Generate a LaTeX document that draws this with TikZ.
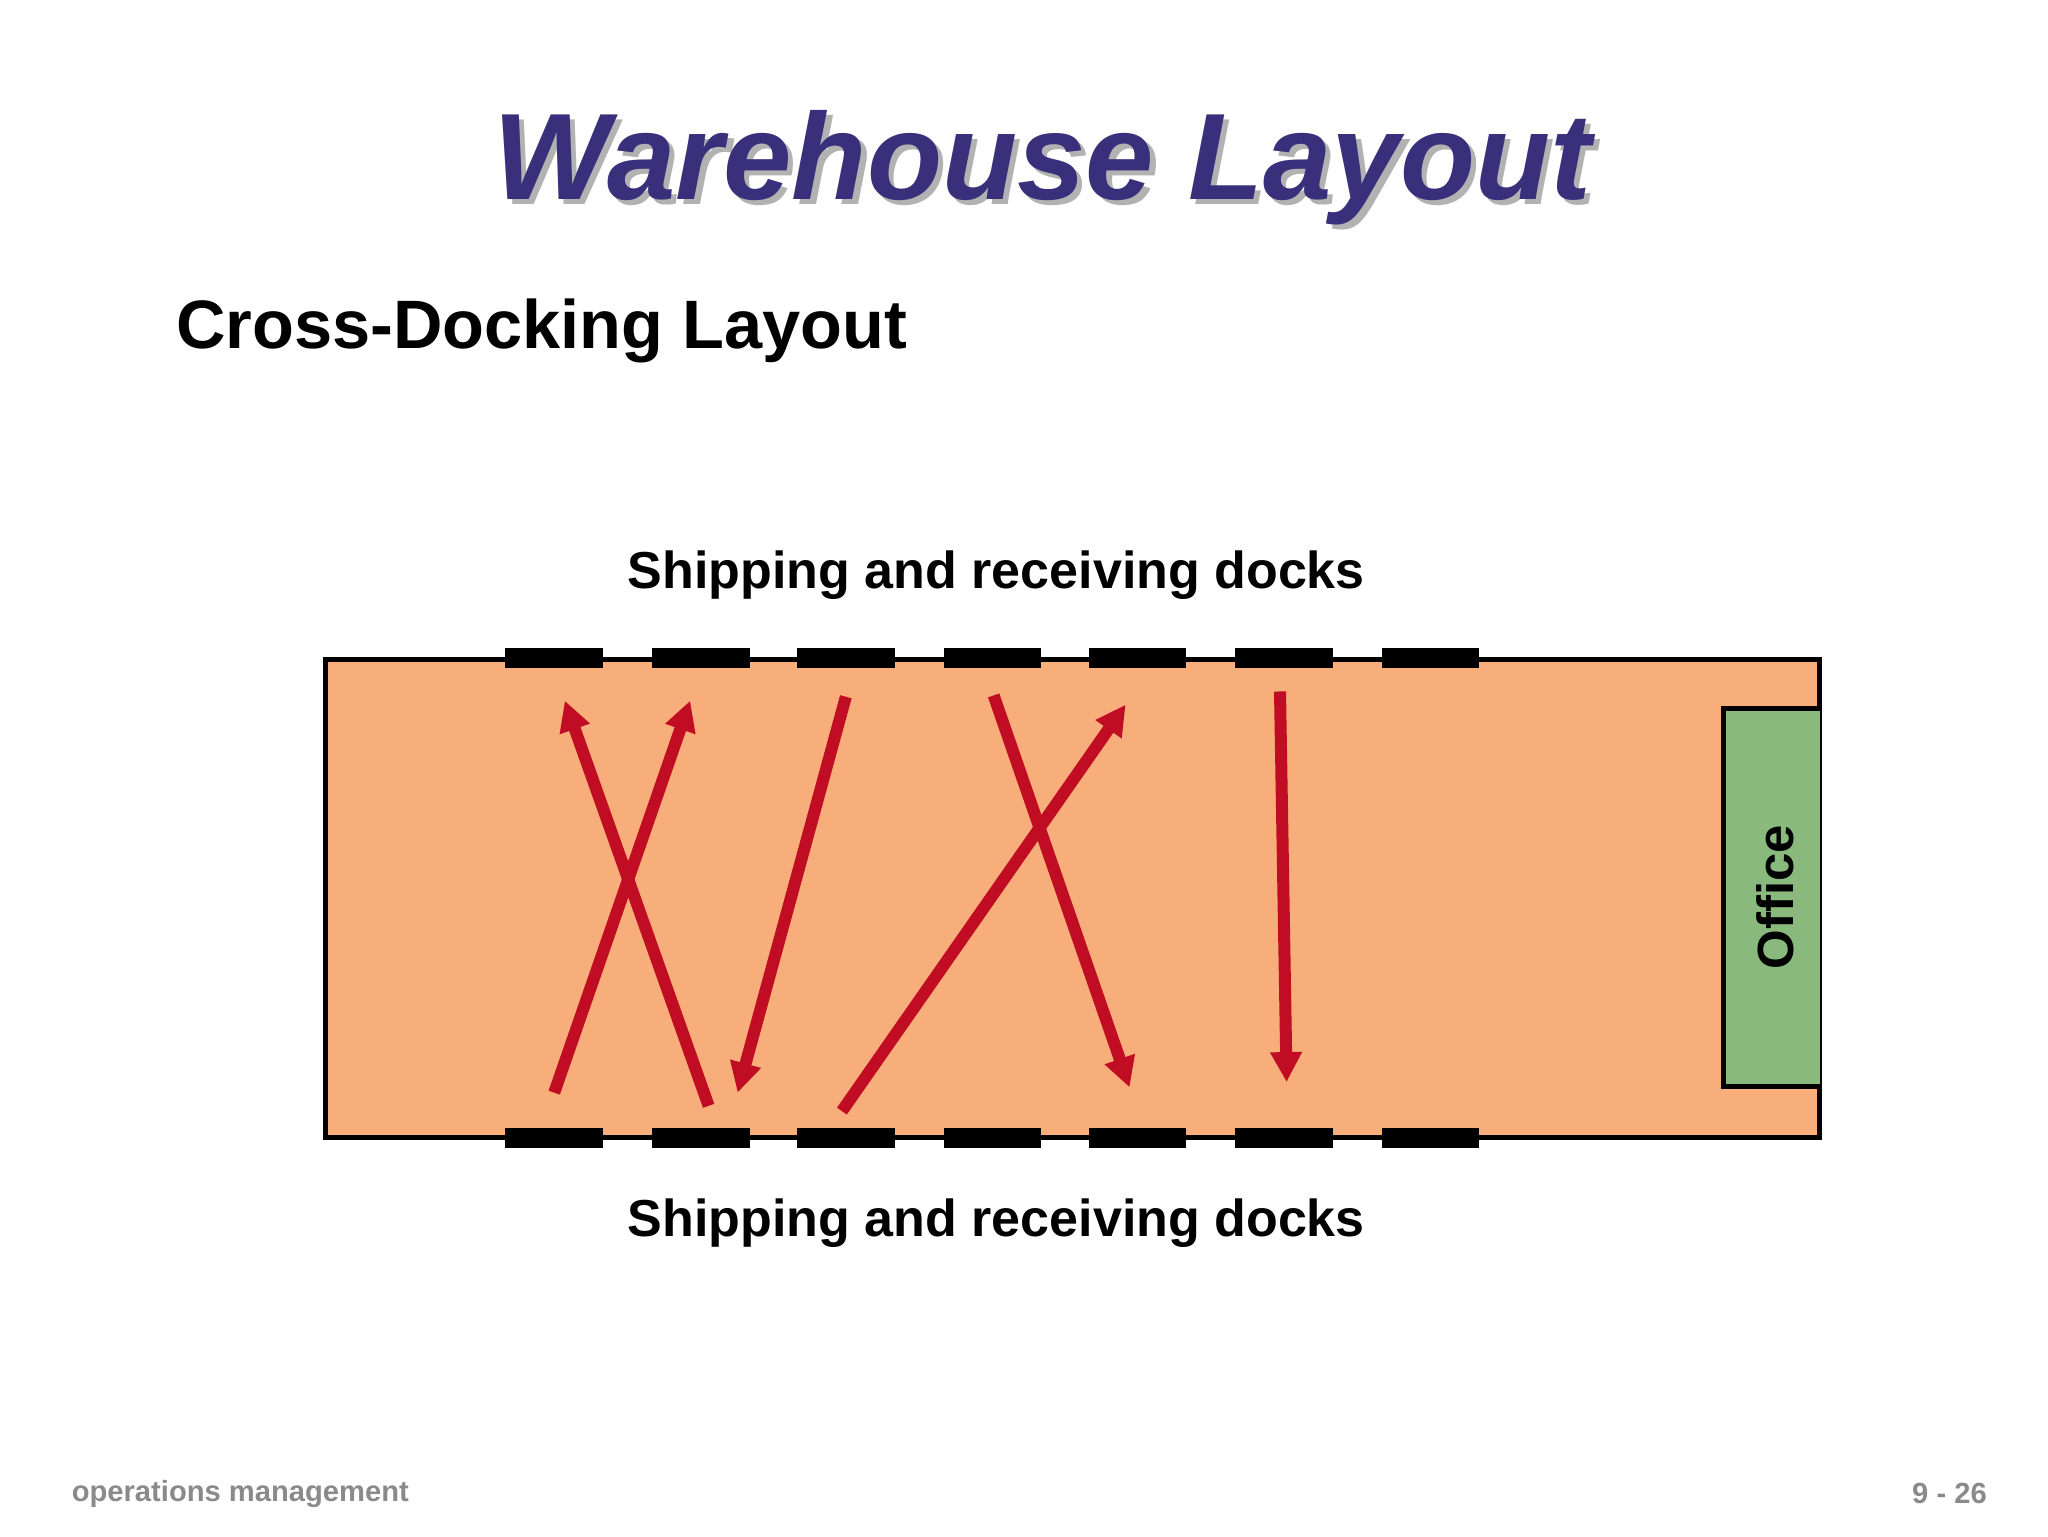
\documentclass[tikz,border=0pt]{standalone}
\usepackage{fontspec}
\setmainfont{Liberation Sans}
\usetikzlibrary{arrows.meta}
\definecolor{titlec}{HTML}{3A2F7A}
\definecolor{floorc}{HTML}{F8AE7A}
\definecolor{officec}{HTML}{8AB97D}
\definecolor{arrc}{HTML}{C00D23}
\definecolor{footc}{HTML}{8A8A8A}
\begin{document}
\begin{tikzpicture}[x=0.0132cm,y=-0.0132cm,
  dock/.style={fill=black,draw=none},
  flow/.style={draw=arrc,line width=0.12cm,-{Triangle[length=0.3cm,width=0.3cm]}},
  lbl/.style={font=\bfseries\fontsize{14.8}{18}\selectfont}]
\useasboundingbox (0,0) rectangle (1552,1164);
\node[font=\bfseries\itshape\fontsize{35}{42}\selectfont,text=black!30] at (794,131) {Warehouse Layout};
\node (title) [font=\bfseries\itshape\fontsize{35}{42}\selectfont,text=titlec] at (790,127) {Warehouse Layout};
\node (sub) [anchor=west,font=\bfseries\fontsize{19.5}{23}\selectfont] at (124,251) {Cross-Docking Layout};
\node (top) [lbl] at (755,436) {Shipping and receiving docks};
\node (bot) [lbl] at (755,927) {Shipping and receiving docks};
\draw[fill=floorc,line width=0.05cm] (247,500) rectangle (1379,862);
\foreach \a in {383,494,604,715,825,936,1047}{
  \fill[dock] (\a,491) rectangle (\a+74,506);
  \fill[dock] (\a,855) rectangle (\a+74,870);
}
\draw[fill=officec,line width=0.05cm] (1379,537) -- (1306,537) -- (1306,823) -- (1379,823);
\node (office) [rotate=90,font=\bfseries\fontsize{14.5}{17}\selectfont] at (1345,680) {Office};
\coordinate (a1) at (420,828); \coordinate (b1) at (523,531);
\coordinate (a2) at (537,838); \coordinate (b2) at (428,531);
\coordinate (a3) at (641,528); \coordinate (b3) at (559,828);
\coordinate (a4) at (638,842); \coordinate (b4) at (853,534);
\coordinate (a5) at (753,527); \coordinate (b5) at (856,824);
\coordinate (a6) at (970,524); \coordinate (b6) at (975,820);
\foreach \i in {1,...,6}{\draw[flow] (a\i) -- (b\i);}
\node (foot) [anchor=west,text=footc,font=\bfseries\fontsize{8.3}{10}\selectfont] at (45,1132) {operations management};
\node (page) [anchor=east,text=footc,font=\bfseries\fontsize{8.3}{10}\selectfont] at (1515,1132) {9 - 26};
\end{tikzpicture}
\end{document}
